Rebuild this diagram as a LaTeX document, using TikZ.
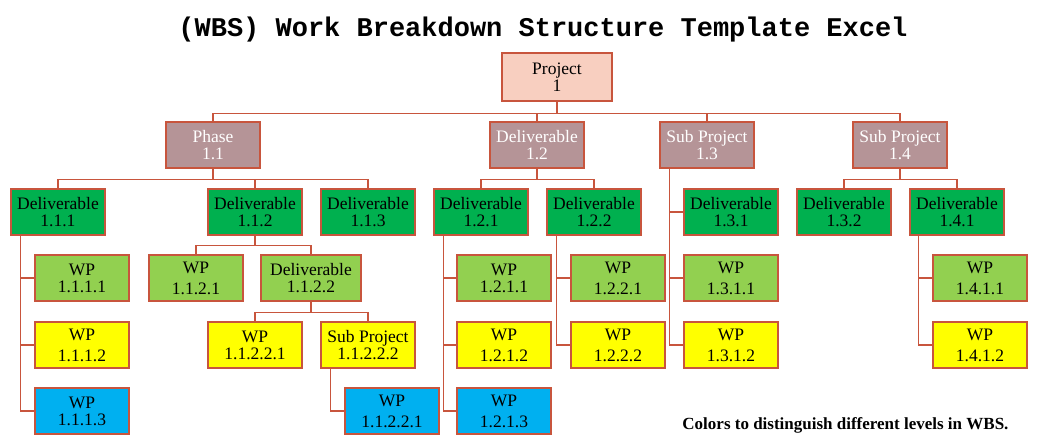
\documentclass[tikz,border=0pt]{standalone}
\usepackage{fontspec}
\setmainfont{Liberation Serif}
\newfontfamily\titlefont{Liberation Mono}
\usetikzlibrary{calc}
\definecolor{edgec}{HTML}{C8553D}
\definecolor{projc}{HTML}{F8CFC0}
\definecolor{lvtwo}{HTML}{B59497}
\definecolor{dgreen}{HTML}{00B04F}
\definecolor{lgreen}{HTML}{92D050}
\definecolor{yel}{HTML}{FFFF00}
\definecolor{blu}{HTML}{00B0F0}
\begin{document}
\begin{tikzpicture}[x=1pt,y=-1pt,
  box/.style={draw=edgec,line width=1.3pt,minimum width=94pt,minimum height=46pt,align=center,inner sep=1pt,font=\fontsize{17.5}{17}\selectfont},
  ltwo/.style={box,fill=lvtwo,text=white},
  dg/.style={box,fill=dgreen},
  lg/.style={box,fill=lgreen},
  yw/.style={box,fill=yel},
  bl/.style={box,fill=blu},
  conn/.style={draw=edgec,line width=1.3pt}]
\useasboundingbox[fill=white] (0,0) rectangle (1044,444);
\node[font=\titlefont\bfseries\fontsize{27}{28}\selectfont] (title) at (543,30) {(WBS) Work Breakdown Structure Template Excel};
\node[box,fill=projc,minimum width=110pt,minimum height=48pt] (proj) at (557,77) {Project\\1};
\node[ltwo] (ph) at (213,145) {Phase\\1.1};
\node[ltwo] (d12) at (537,145) {Deliverable\\1.2};
\node[ltwo] (s13) at (707,145) {Sub Project\\1.3};
\node[ltwo] (s14) at (900,145) {Sub Project\\1.4};
\node[dg] (d111) at (58,212) {Deliverable\\1.1.1};
\node[dg] (d112) at (255,212) {Deliverable\\1.1.2};
\node[dg] (d113) at (368,212) {Deliverable\\1.1.3};
\node[dg] (d121) at (481,212) {Deliverable\\1.2.1};
\node[dg] (d122) at (594,212) {Deliverable\\1.2.2};
\node[dg] (d131) at (731,212) {Deliverable\\1.3.1};
\node[dg] (d132) at (844,212) {Deliverable\\1.3.2};
\node[dg] (d141) at (957,212) {Deliverable\\1.4.1};
\node[lg] (w1111) at (82,278) {WP\\1.1.1.1};
\node[lg] (w1121) at (196,278) {WP\\[4pt]1.1.2.1};
\node[lg,minimum width=100pt] (d1122) at (311,278) {Deliverable\\1.1.2.2};
\node[lg] (w1211) at (504,278) {WP\\1.2.1.1};
\node[lg] (w1221) at (618,278) {WP\\[4pt]1.2.2.1};
\node[lg] (w1311) at (731,278) {WP\\[4pt]1.3.1.1};
\node[lg] (w1411) at (980,278) {WP\\[4pt]1.4.1.1};
\node[yw] (w1112) at (82,345) {WP\\[4pt]1.1.1.2};
\node[yw] (w11221) at (255,345) {WP\\1.1.2.2.1};
\node[yw] (s11222) at (368,345) {Sub Project\\1.1.2.2.2};
\node[yw] (w1212) at (504,345) {WP\\[4pt]1.2.1.2};
\node[yw] (w1222) at (618,345) {WP\\[4pt]1.2.2.2};
\node[yw] (w1312) at (731,345) {WP\\[4pt]1.3.1.2};
\node[yw] (w1412) at (980,345) {WP\\[4pt]1.4.1.2};
\node[bl] (w1113) at (82,411) {WP\\1.1.1.3};
\node[bl] (w112221) at (392,411) {WP\\[4pt]1.1.2.2.1};
\node[bl] (w1213) at (504,411) {WP\\[4pt]1.2.1.3};
\node[font=\bfseries\fontsize{17}{18}\selectfont,anchor=east] (note) at (1012,425) {Colors to distinguish different levels in WBS.};
% buses
\foreach \c in {ph,d12,s13,s14}{\draw[conn] (proj.south) -- ++(0,12) -| (\c.north);}
\foreach \c in {d111,d112,d113}{\draw[conn] (ph.south) -- ++(0,11) -| (\c.north);}
\foreach \c in {d121,d122}{\draw[conn] (d12.south) -- ++(0,11) -| (\c.north);}
\foreach \c in {d132,d141}{\draw[conn] (s14.south) -- ++(0,11) -| (\c.north);}
\foreach \c in {w1121,d1122}{\draw[conn] (d112.south) -- ++(0,10) -| (\c.north);}
\foreach \c in {w11221,s11222}{\draw[conn] (d1122.south) -- ++(0,11) -| (\c.north);}
% trunks
\foreach \c in {w1111,w1112,w1113}{\draw[conn] ($(d111.south west)+(10,0)$) |- (\c.west);}
\foreach \c in {w1211,w1212,w1213}{\draw[conn] ($(d121.south west)+(10,0)$) |- (\c.west);}
\foreach \c in {w1221,w1222}{\draw[conn] ($(d122.south west)+(10,0)$) |- (\c.west);}
\foreach \c in {d131,w1311,w1312}{\draw[conn] ($(s13.south west)+(10,0)$) |- (\c.west);}
\foreach \c in {w1411,w1412}{\draw[conn] ($(d141.south west)+(9,0)$) |- (\c.west);}
\draw[conn] ($(s11222.south west)+(10,0)$) |- (w112221.west);
\end{tikzpicture}
\end{document}
